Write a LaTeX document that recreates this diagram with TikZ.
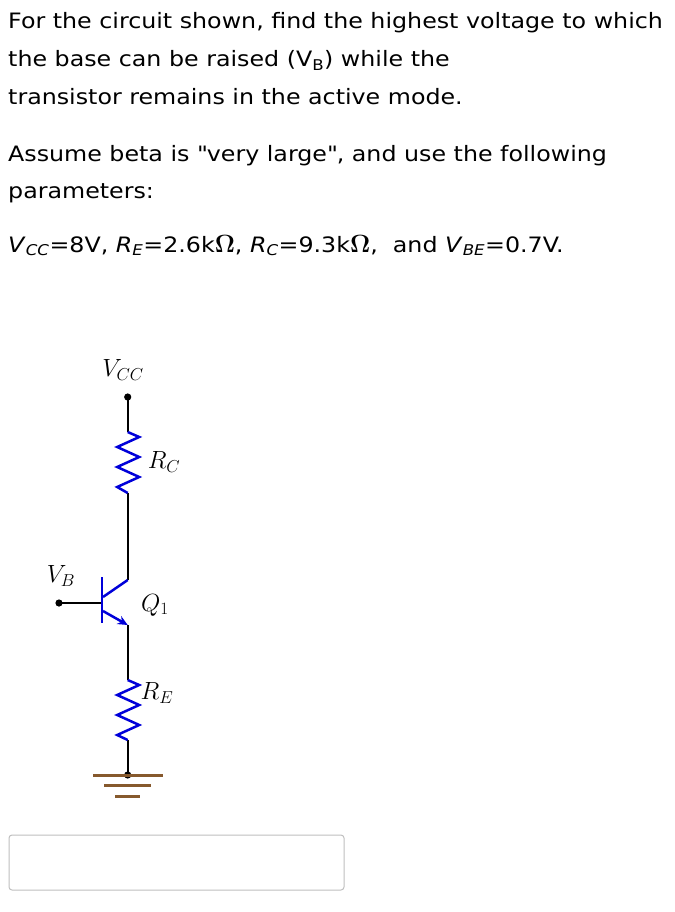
\documentclass[tikz,border=0pt]{standalone}
\usepackage{fontspec}
\usepackage{amsmath}
\setmainfont[FakeStretch=1.12]{DejaVu Sans}
\usetikzlibrary{arrows.meta}
\newcommand{\bigohm}{{\fontsize{27}{27}\selectfont$\boldsymbol{\Omega}$}}
\begin{document}
\begin{tikzpicture}[x=1pt,y=-1pt,
  txt/.style={anchor=base west,inner sep=0,font=\fontsize{21.2}{24}\selectfont},
  lbl/.style={inner sep=0,font=\fontsize{24}{26}\selectfont},
  wire/.style={line width=2.2pt,black},
  comp/.style={line width=2.5pt,blue!85!black},
  gnd/.style={line width=3pt,brown!70!black}]
\useasboundingbox (0,0) rectangle (674,912);
\node[txt] (l1) at (8,29) {For the circuit shown, find the highest voltage to which};
\node[txt] (l2) at (8,67) {the base can be raised (V\textsubscript{B}) while the};
\node[txt] (l3) at (8,105) {transistor remains in the active mode.};
\node[txt] (l4) at (8,162) {Assume beta is \textquotedbl very large\textquotedbl, and use the following};
\node[txt] (l5) at (8,198) {parameters:};
\node[txt] (l6) at (8,252) {\textit{V}\textsubscript{\textit{CC}}=8V, \textit{R}\textsubscript{\textit{E}}=2.6k\bigohm, \textit{R}\textsubscript{\textit{C}}=9.3k\bigohm,\ \ and \textit{V}\textsubscript{\textit{BE}}=0.7V.};
% circuit
\coordinate (vcc) at (127.7,397);
\coordinate (rct) at (127.7,432);
\coordinate (rcb) at (127.7,493);
\coordinate (col) at (127.7,580);
\coordinate (emi) at (127.7,625);
\coordinate (ret) at (127.7,680);
\coordinate (reb) at (127.7,740);
\coordinate (gnd) at (127.7,775);
\coordinate (vb) at (59,603);
\coordinate (bb) at (102,603);
\fill (vcc) circle (3.6);
\fill (vb) circle (3.6);
\fill (gnd) circle (3.6);
\draw[wire] (vcc) -- (rct);
\draw[wire] (rcb) -- (col);
\draw[wire] (emi) -- (ret);
\draw[wire] (reb) -- (gnd);
\draw[wire] (vb) -- (bb);
\draw[comp] (rct) -- ++(11.5,5) -- ++(-22,10) -- ++(22,10) -- ++(-22,10) -- ++(22,10) -- ++(-22,10) -- (rcb);
\draw[comp] (ret) -- ++(11.5,5) -- ++(-22,10) -- ++(22,10) -- ++(-22,10) -- ++(22,10) -- ++(-22,10) -- (reb);
\draw[comp] (102,577) -- (102,623);
\draw[comp] (103,597) -- (col);
\draw[comp,-{Stealth[length=10pt,width=9pt]}] (103,611) -- (emi);
\draw[gnd] (93,775) -- (163,775);
\draw[gnd] (104,785.5) -- (151,785.5);
\draw[gnd] (115,796) -- (140,796);
\node[lbl] (lvcc) at (123,370) {$V_{CC}$};
\node[lbl] (lrc) at (164,462) {$R_C$};
\node[lbl] (lvb) at (61,576) {$V_B$};
\node[lbl] (lq) at (155,605) {$Q_1$};
\node[lbl] (lre) at (157,693) {$R_E$};
\draw[gray!50,line width=1pt,rounded corners=3pt] (9,835) rectangle (344,890);
\end{tikzpicture}
\end{document}
